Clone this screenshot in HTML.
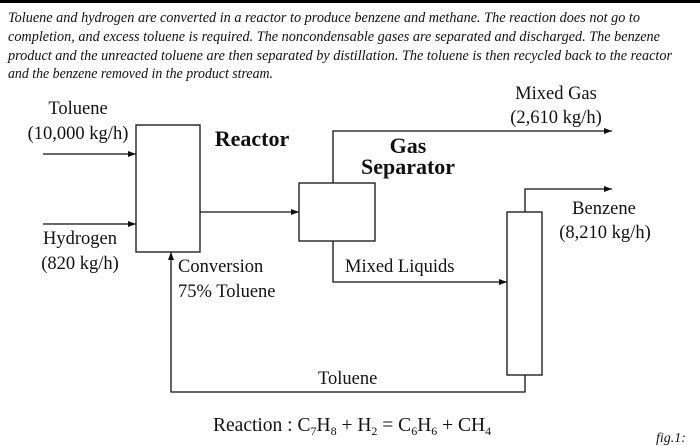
<!DOCTYPE html>
<html><head><meta charset="utf-8"><style>
html,body{margin:0;padding:0;background:#fff;}
svg{display:block;}
text{font-family:"Liberation Serif",serif;fill:#111;}
</style></head><body>
<svg width="700" height="446" viewBox="0 0 700 446" xmlns="http://www.w3.org/2000/svg">
<defs><marker id="a" markerWidth="8" markerHeight="6" refX="8" refY="3" orient="auto" markerUnits="userSpaceOnUse"><path d="M0,0 L8,3 L0,6 z" fill="#111"/></marker></defs>
<rect x="0" y="0" width="700" height="3" fill="#000"/>
<g font-style="italic" font-size="14.5">
<text x="8" y="22" textLength="632" lengthAdjust="spacingAndGlyphs">Toluene and hydrogen are converted in a reactor to produce benzene and methane. The reaction does not go to</text>
<text x="8" y="41" textLength="652" lengthAdjust="spacingAndGlyphs">completion, and excess toluene is required. The noncondensable gases are separated and discharged. The benzene</text>
<text x="8" y="60" textLength="664" lengthAdjust="spacingAndGlyphs">product and the unreacted toluene are then separated by distillation. The toluene is then recycled back to the reactor</text>
<text x="8" y="78" textLength="265" lengthAdjust="spacingAndGlyphs">and the benzene removed in the product stream.</text>
</g>
<g stroke="#111" stroke-width="1.3" fill="none">
<rect x="136" y="125" width="64" height="127" fill="#fff"/>
<rect x="299" y="183" width="76" height="58" fill="#fff"/>
<rect x="507" y="212" width="35" height="163" fill="#fff"/>
<line x1="43" y1="154" x2="136" y2="154" marker-end="url(#a)"/>
<line x1="43" y1="224" x2="136" y2="224" marker-end="url(#a)"/>
<line x1="200" y1="212" x2="299" y2="212" marker-end="url(#a)"/>
<polyline points="333,183 333,131 612,131" marker-end="url(#a)"/>
<polyline points="333,241 333,282 507,282" marker-end="url(#a)"/>
<polyline points="525,212 525,189 612,189" marker-end="url(#a)"/>
<polyline points="525,375 525,392 171,392 171,252" marker-end="url(#a)"/>
</g>
<g font-size="18.5">
<text x="78" y="114" text-anchor="middle">Toluene</text>
<text x="78" y="139" text-anchor="middle">(10,000 kg/h)</text>
<text x="80" y="244" text-anchor="middle">Hydrogen</text>
<text x="80" y="269" text-anchor="middle">(820 kg/h)</text>
<text x="252" y="146" text-anchor="middle" font-weight="bold" font-size="22">Reactor</text>
<text x="408" y="153" text-anchor="middle" font-weight="bold" font-size="22">Gas</text>
<text x="408" y="174" text-anchor="middle" font-weight="bold" font-size="22">Separator</text>
<text x="556" y="99" text-anchor="middle">Mixed Gas</text>
<text x="556" y="123" text-anchor="middle">(2,610 kg/h)</text>
<text x="604" y="214" text-anchor="middle">Benzene</text>
<text x="605" y="238" text-anchor="middle">(8,210 kg/h)</text>
<text x="178" y="272">Conversion</text>
<text x="178" y="297">75% Toluene</text>
<text x="345" y="272">Mixed Liquids</text>
<text x="318" y="384">Toluene</text>
</g>
<text x="213" y="431" font-size="19.5">Reaction : C<tspan font-size="12" dy="4">7</tspan><tspan dy="-4">H</tspan><tspan font-size="12" dy="4">8</tspan><tspan dy="-4"> + H</tspan><tspan font-size="12" dy="4">2</tspan><tspan dy="-4"> = C</tspan><tspan font-size="12" dy="4">6</tspan><tspan dy="-4">H</tspan><tspan font-size="12" dy="4">6</tspan><tspan dy="-4"> + CH</tspan><tspan font-size="12" dy="4">4</tspan></text>
<text x="656" y="442" font-style="italic" font-size="14">fig.1:</text>
</svg>
</body></html>
